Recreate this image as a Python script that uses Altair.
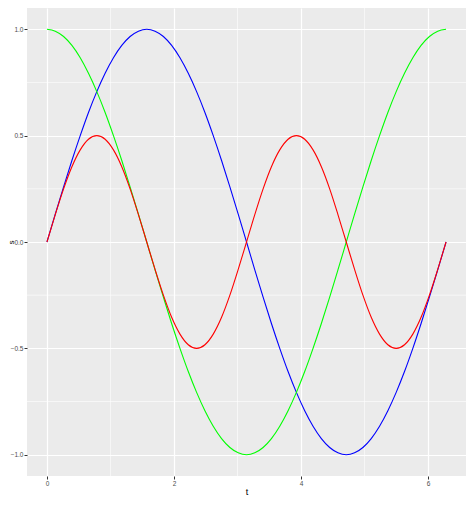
import altair as alt
import pandas as pd

# sample positions along t (0 .. 2*pi) and curve values
t = [0.000, 0.131, 0.262, 0.393, 0.524, 0.654, 0.785, 0.916, 1.047, 1.178,
     1.309, 1.440, 1.571, 1.702, 1.833, 1.963, 2.094, 2.225, 2.356, 2.487,
     2.618, 2.749, 2.880, 3.011, 3.142, 3.272, 3.403, 3.534, 3.665, 3.796,
     3.927, 4.058, 4.189, 4.320, 4.451, 4.581, 4.712, 4.843, 4.974, 5.105,
     5.236, 5.367, 5.498, 5.629, 5.760, 5.890, 6.021, 6.152, 6.283]
blue_vals = [0.000, 0.131, 0.259, 0.383, 0.500, 0.609, 0.707, 0.793, 0.866, 0.924,
             0.966, 0.991, 1.000, 0.991, 0.966, 0.924, 0.866, 0.793, 0.707, 0.609,
             0.500, 0.383, 0.259, 0.131, 0.000, -0.131, -0.259, -0.383, -0.500, -0.609,
             -0.707, -0.793, -0.866, -0.924, -0.966, -0.991, -1.000, -0.991, -0.966, -0.924,
             -0.866, -0.793, -0.707, -0.609, -0.500, -0.383, -0.259, -0.131, 0.000]
green_vals = [1.000, 0.991, 0.966, 0.924, 0.866, 0.793, 0.707, 0.609, 0.500, 0.383,
              0.259, 0.131, 0.000, -0.131, -0.259, -0.383, -0.500, -0.609, -0.707, -0.793,
              -0.866, -0.924, -0.966, -0.991, -1.000, -0.991, -0.966, -0.924, -0.866, -0.793,
              -0.707, -0.609, -0.500, -0.383, -0.259, -0.131, 0.000, 0.131, 0.259, 0.383,
              0.500, 0.609, 0.707, 0.793, 0.866, 0.924, 0.966, 0.991, 1.000]
red_vals = [0.000, 0.129, 0.250, 0.354, 0.433, 0.483, 0.500, 0.483, 0.433, 0.354,
            0.250, 0.129, 0.000, -0.129, -0.250, -0.354, -0.433, -0.483, -0.500, -0.483,
            -0.433, -0.354, -0.250, -0.129, 0.000, 0.129, 0.250, 0.354, 0.433, 0.483,
            0.500, 0.483, 0.433, 0.354, 0.250, 0.129, 0.000, -0.129, -0.250, -0.354,
            -0.433, -0.483, -0.500, -0.483, -0.433, -0.354, -0.250, -0.129, 0.000]

x_ticks = [0, 2, 4, 6]
y_ticks = [-1.0, -0.5, 0.0, 0.5, 1.0]
x_minor = [1, 3, 5]
y_minor = [-0.75, -0.25, 0.25, 0.75]

df = pd.DataFrame({"t": t, "blue": blue_vals, "green": green_vals, "red": red_vals})

W, H = 439, 468
xscale = alt.Scale(domain=[-0.314, 6.597], nice=False, zero=False)
yscale = alt.Scale(domain=[-1.1, 1.1], nice=False, zero=False)

common = dict(
    grid=True, gridColor="white", gridWidth=1.2,
    tickColor="#333333", tickSize=3, tickWidth=1, domain=False,
    labelColor="#4D4D4D", labelFontSize=6.5, labelFont="Liberation Sans",
    titleFont="Liberation Sans", titleColor="black",
    titleFontWeight="normal",
)
xaxis = alt.Axis(values=x_ticks, format="d", title="t", labelPadding=1,
                 titlePadding=1, titleFontSize=9, **common)
yaxis = alt.Axis(values=y_ticks, format=".1f", title="s", labelPadding=1,
                 titleX=-14, titleY=H / 2, titleBaseline="alphabetic",
                 titleFontSize=8, **common)

xminor = alt.Chart(pd.DataFrame({"v": x_minor})).mark_rule(
    color="white", strokeWidth=0.6
).encode(x=alt.X("v:Q", scale=xscale, axis=xaxis))

yminor = alt.Chart(pd.DataFrame({"v": y_minor})).mark_rule(
    color="white", strokeWidth=0.6
).encode(y=alt.Y("v:Q", scale=yscale, axis=yaxis))


def line(field, color):
    return alt.Chart(df).mark_line(
        color=color, strokeWidth=1.1, interpolate="monotone"
    ).encode(
        x=alt.X("t:Q", scale=xscale, axis=xaxis),
        y=alt.Y(f"{field}:Q", scale=yscale, axis=yaxis),
    )


chart = alt.layer(
    xminor, yminor,
    line("blue", "#0000FF"),
    line("green", "#00FF00"),
    line("red", "#FF0000"),
).properties(
    width=W, height=H,
    autosize=alt.AutoSizeParams(type="none"),
    padding={"left": 19, "top": 0, "right": 0, "bottom": 21},
    background="white",
).configure_view(fill="#EBEBEB", strokeWidth=0)

chart.save("out.html", embed_options={"renderer": "svg", "actions": False})
